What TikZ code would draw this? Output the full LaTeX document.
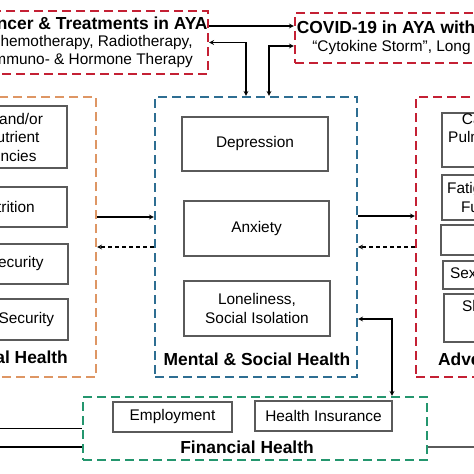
\documentclass[tikz,border=0pt]{standalone}
\usepackage{fontspec}
\setmainfont{Liberation Sans}

\definecolor{redbox}{RGB}{196,32,52}
\definecolor{orangebox}{RGB}{222,150,100}
\definecolor{bluebox}{RGB}{46,110,146}
\definecolor{greenbox}{RGB}{36,150,110}
\definecolor{boxgray}{RGB}{90,90,90}

\newcommand\boxfont{\fontsize{15.4}{18.5}\selectfont}
\newcommand\headfont{\fontsize{17.4}{18.5}\selectfont\bfseries}

\begin{document}
\begin{tikzpicture}
[
  x=1pt, y=-1pt,
  >=stealth,
  group/.style = {draw=#1, line width=2.2pt, dash pattern=on 9pt off 5pt, inner sep=0pt, align=center, font=\boxfont},
  item/.style = {draw=boxgray, line width=1.2pt, inner sep=0pt, align=center, font=\boxfont},
  head/.style = {inner sep=0pt, font=\headfont},
  link/.style = {line width=1.2pt},
  back/.style = {line width=1.2pt, dash pattern=on 4pt off 3pt},
]
\useasboundingbox (0,0) rectangle (474,474);
\clip (0,0) rectangle (474,474);
\fill[white] (0,0) rectangle (474,474);

% groups
\node (cancer) at (91,42.5) [group=redbox, minimum width=234, minimum height=63]
  {\raisebox{-2pt}{\headfont Cancer \& Treatments in AYA}\\Chemotherapy, Radiotherapy,\\Immuno- \& Hormone Therapy};
\node (covid) at (418,38) [group=redbox, minimum width=246, minimum height=50]
  {{\headfont COVID-19 in AYA with Cancer}\\``Cytokine Storm'', Long COVID};
\node (phys) at (-7,237) [group=orangebox, minimum width=206, minimum height=280] {};
\node (mental) at (256,237) [group=bluebox, minimum width=202, minimum height=280] {};
\node (adverse) at (517,237) [group=redbox, minimum width=202, minimum height=280] {};
\node (fin) at (255,428.5) [group=greenbox, minimum width=344, minimum height=63] {};

% physical health
\node (macro) at (-5,137) [item, minimum width=144, minimum height=62] {Macro- and/or\\Micronutrient\\Deficiencies};
\node (maln) at (-5,207) [item, minimum width=144, minimum height=40] {Malnutrition};
\node (food) at (-4,264) [item, minimum width=144, minimum height=40] {Food Security};
\node (housing) at (-4,319.5) [item, minimum width=144, minimum height=41] {Housing Security};
\node (physT) at ([xshift=-29pt,yshift=19pt]phys.south east) [head, anchor=east] {Physical Health};

% mental & social health
\node (dep) at (255,144) [item, minimum width=146, minimum height=54] {Depression};
\node (anx) at (256.5,228.5) [item, minimum width=145, minimum height=55] {Anxiety};
\node (lone) at (257,308.5) [item, minimum width=146, minimum height=55] {Loneliness,\\Social Isolation};
\node (mentalT) at ([xshift=1pt,yshift=19pt]mental.south) [head] {Mental \& Social Health};

% adverse health
\node (cardio) at (515,140) [item, minimum width=146, minimum height=54] {Cardiovascular,\\Pulmonary Disease\\\strut};
\node (fatigue) at (515,197.5) [item, minimum width=146, minimum height=45] {Fatigue, Weakness,\\Functional Loss};
\node (third) at (514,240) [item, minimum width=146, minimum height=30] {};
\node (sexual) at (516,275) [item, minimum width=146, minimum height=28] {Sexual Dysfunction};
\node (sleep) at (517,318) [item, minimum width=146, minimum height=48] {Sleep Disorders\\\strut};
\node (advT) at ([xshift=23pt,yshift=19pt]adverse.south west) [head, anchor=west] {Adverse Health Outcomes};

% financial health
\node (employ) at (172.5,417) [item, minimum width=119, minimum height=30] {Employment};
\node (insur) at (323.5,416) [item, minimum width=137, minimum height=30] {Health Insurance};
\node (finT) at ([xshift=-8pt,yshift=14pt]fin.south) [head] {Financial Health};

% connectors
\draw[link,->] ([yshift=16.5pt]cancer.east) -- ([yshift=16.5pt]cancer.east -| covid.west);
\draw[link,<->] (cancer.east) -| ([xshift=-10pt]mental.north);
\draw[link,<->] ([yshift=-8pt]covid.west) -| ([xshift=13pt]mental.north);

\draw[link,->] ([yshift=20pt]phys.east) -- ([yshift=20pt]mental.west);
\draw[back,->] ([yshift=-10pt]mental.west) -- ([yshift=-10pt]phys.east);
\draw[link,->] ([yshift=21pt]mental.east) -- ([yshift=21pt]adverse.west);
\draw[back,->] ([yshift=-10pt]adverse.west) -- ([yshift=-10pt]mental.east);

\draw[link,<->] ([yshift=-82pt]mental.east) -| ([xshift=137pt]fin.north);
\draw[link] ([xshift=-40pt]phys.south) |- (fin.west);
\draw[link] ([xshift=-60pt]phys.south) |- ([yshift=-18.5pt]fin.west);
\draw[link,draw=boxgray] ([yshift=-18.5pt]fin.east) -| (adverse.south);

\end{tikzpicture}
\end{document}
